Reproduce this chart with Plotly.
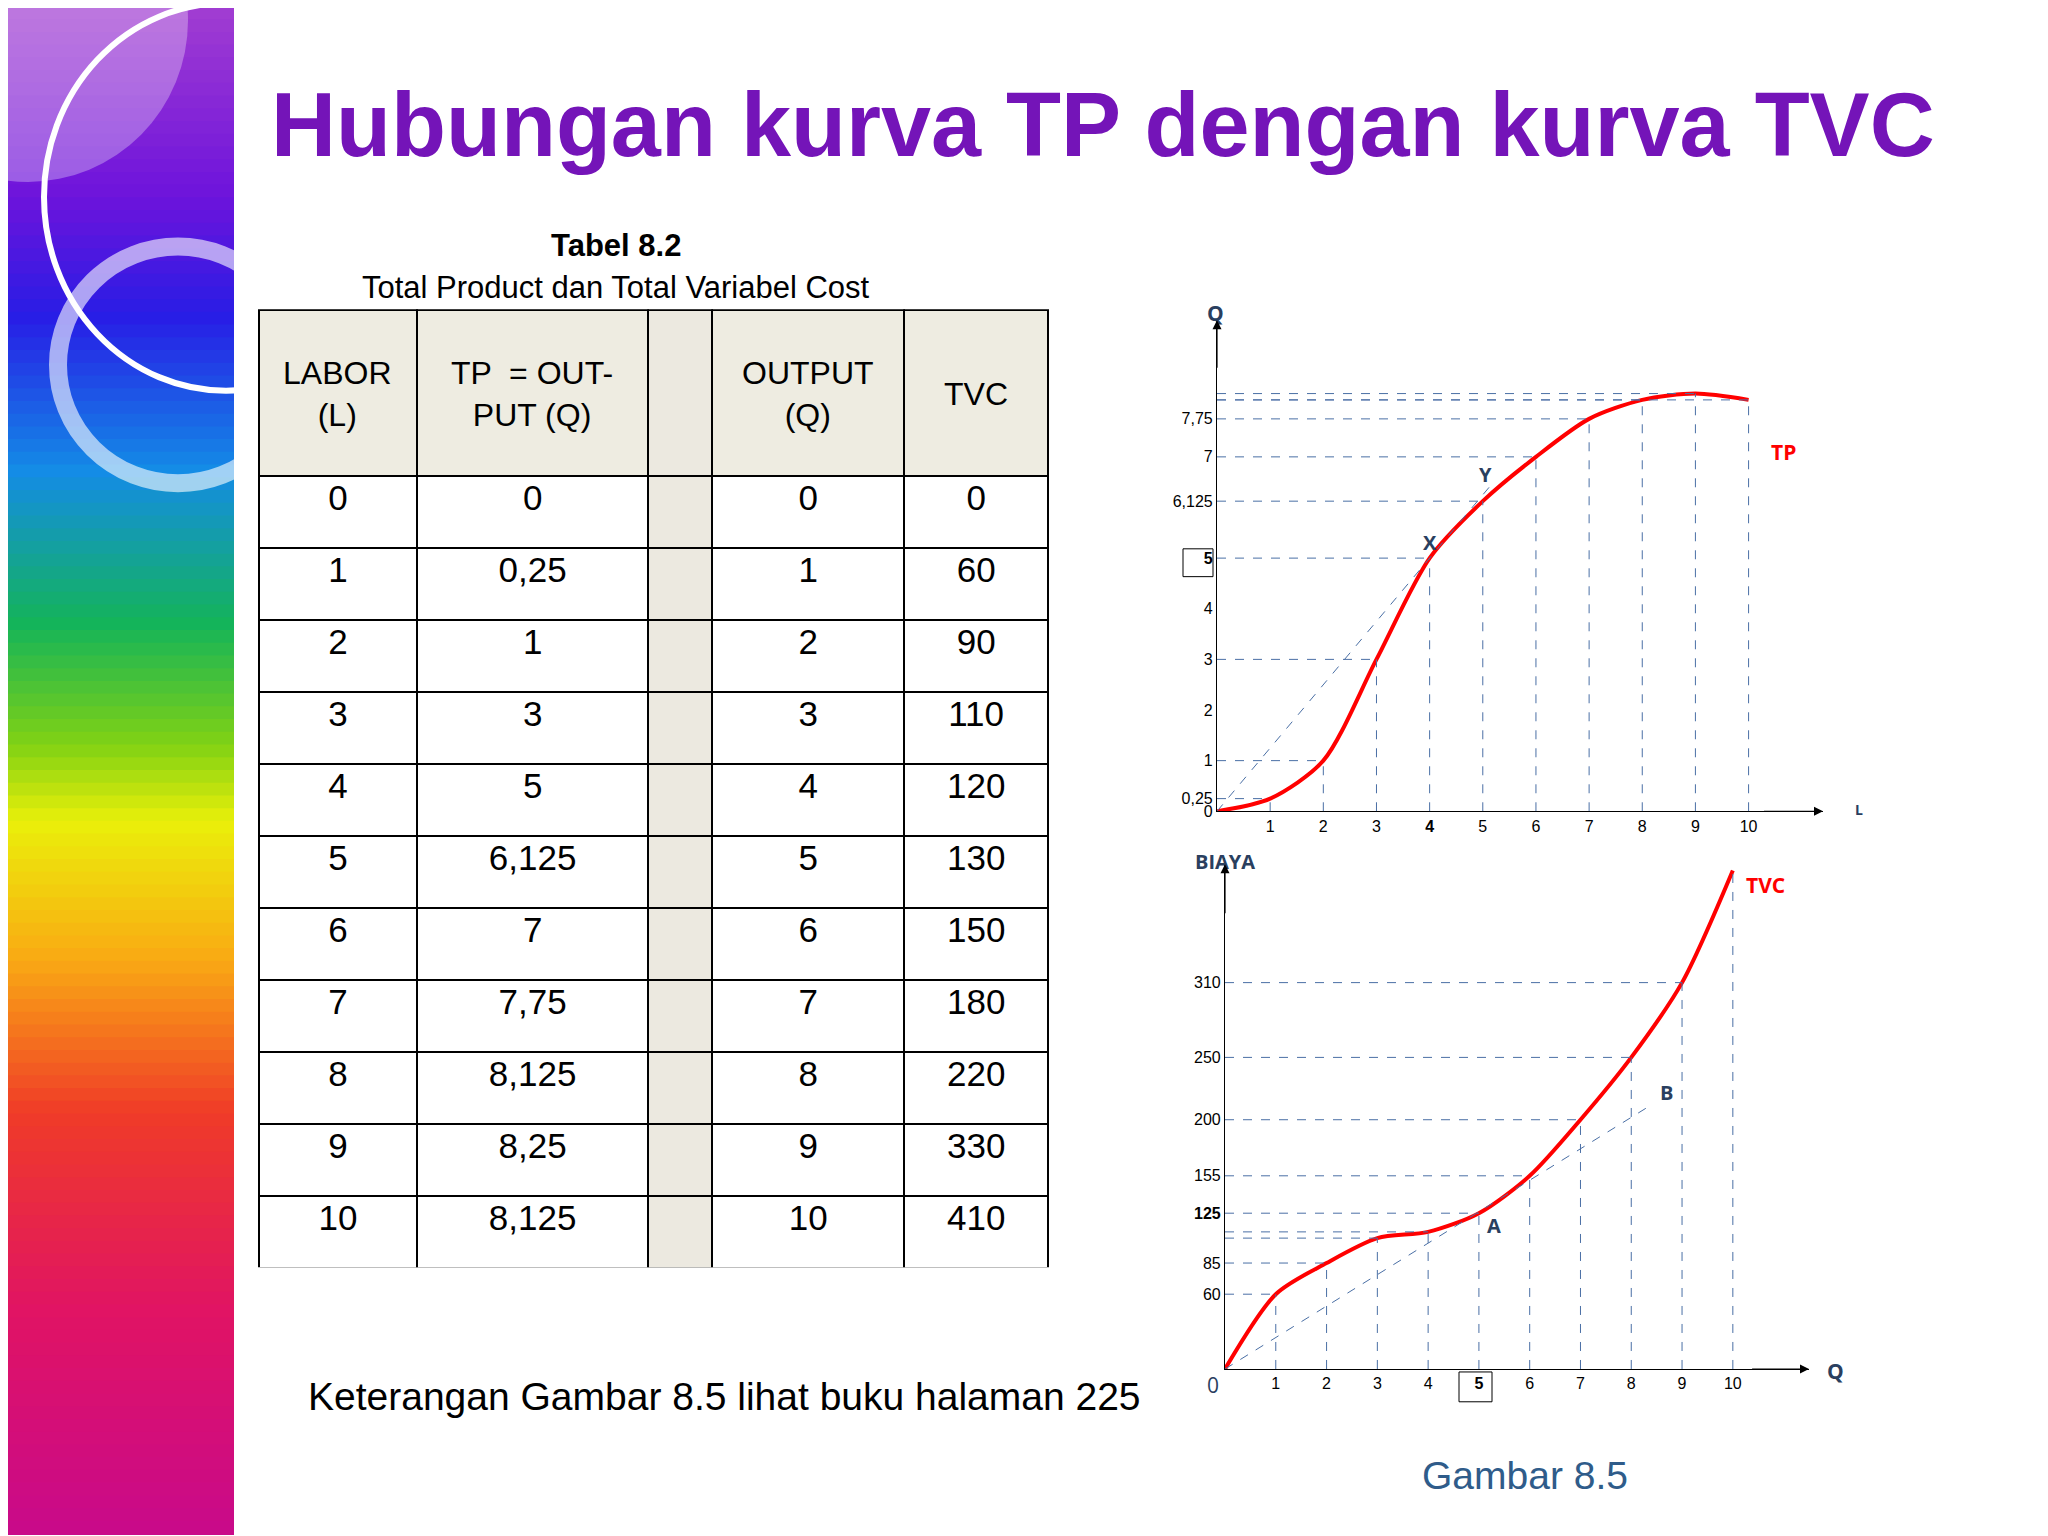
import plotly.graph_objects as go

labor = [0, 1, 2, 3, 4, 5, 6, 7, 8, 9, 10]
tp = [0, 0.25, 1, 3, 5, 6.125, 7, 7.75, 8.125, 8.25, 8.125]
tp_txt = ["0", "0,25", "1", "3", "5", "6,125", "7", "7,75", "8,125", "8,25", "8,125"]
output_q = [0, 1, 2, 3, 4, 5, 6, 7, 8, 9, 10]
tvc_table = [0, 60, 90, 110, 120, 130, 150, 180, 220, 330, 410]
# values
tvc_graph = [0, 60, 85, 105, 110, 125, 155, 200, 250, 310, 400]
tvc_ticks = [60, 85, 125, 155, 200, 250, 310]
header_txt = ["LABOR<br>(L)", "TP  = OUT-<br>PUT (Q)", "OUTPUT<br>(Q)", "TVC"]

W, H = 2048, 1536
fig = go.Figure()
shapes, ann = [], []

def P(x, y):
    return dict(x=x / W, y=1 - y / H, xref="paper", yref="paper", showarrow=False)

# decorative rings (below), then white cover right of bar, then bar
shapes.append(dict(type="circle", xref="paper", yref="paper", x0=-140 / W, x1=180 / W, y0=1 - 175 / H, y1=1 + 150 / H,
                   fillcolor="rgba(255,255,255,0.3)", line_width=0, layer="below"))
stops = [(0, (160, 60, 210)), (0.12, (110, 20, 220)), (0.2, (40, 30, 230)), (0.3, (20, 140, 230)),
         (0.4, (20, 180, 90)), (0.48, (130, 210, 20)), (0.53, (235, 240, 10)), (0.62, (250, 170, 20)),
         (0.72, (240, 60, 40)), (0.85, (225, 20, 100)), (1.0, (200, 10, 140))]
def col(t):
    for (a, ca), (b, cb) in zip(stops, stops[1:]):
        if a <= t <= b:
            f = (t - a) / (b - a)
            return "rgb(%d,%d,%d)" % tuple(int(ca[i] + (cb[i] - ca[i]) * f) for i in range(3))
    return "rgb(200,10,140)"
n = 120
bar = []
for i in range(n):
    bar.append(dict(type="rect", xref="paper", yref="paper", x0=0, x1=226 / W,
                    y0=1 - (i + 1) / n, y1=1 - i / n + 0.001, fillcolor=col(i / n), line_width=0, layer="below"))
shapes = bar + shapes
shapes.append(dict(type="circle", xref="paper", yref="paper", x0=36 / W, x1=400 / W, y0=1 - 385 / H, y1=1 + 5 / H,
                   line=dict(color="white", width=6), layer="below"))
shapes.append(dict(type="circle", xref="paper", yref="paper", x0=50 / W, x1=290 / W, y0=1 - 478 / H, y1=1 - 240 / H,
                   line=dict(color="rgba(255,255,255,0.6)", width=18), layer="below"))
shapes.append(dict(type="rect", xref="paper", yref="paper", x0=226 / W, x1=0.3, y0=0.6, y1=1.01,
                   fillcolor="white", line_width=0, layer="below"))

# table
fig.add_trace(go.Table(
    domain=dict(x=[251 / W, 1040 / W], y=[1 - 1267 / H, 1 - 304 / H]),
    columnwidth=[121, 177, 49, 147, 110],
    header=dict(values=["", "", "", "", ""],
                fill_color=["#EEECE1", "#EEECE1", "#ECE9E0", "#EEECE1", "#EEECE1"],
                line=dict(color="black", width=2), height=166),
    cells=dict(values=[[str(v) for v in labor], tp_txt, [""] * 11, [str(v) for v in output_q],
                       [str(v) for v in tvc_table]],
               fill_color=[["white"] * 11, ["white"] * 11, ["#ECE9E0"] * 11, ["white"] * 11, ["white"] * 11],
               line=dict(color="black", width=2), height=72,
               font=dict(family="Liberation Sans", size=35, color="black"), align="center")))
for t, cx in zip(header_txt, [329, 524, 800, 968]):
    ann.append(dict(**P(cx, 388), text=t, xanchor="center", yanchor="middle",
                    font=dict(family="Liberation Sans", size=32, color="black")))

red = "#FF0000"
grid = dict(color="#4a6fa5", width=1, dash="dash")

# TP chart
fig.add_trace(go.Scatter(x=labor, y=tp, mode="lines", line=dict(color=red, width=4, shape="spline", smoothing=0.8),
                         xaxis="x", yaxis="y", showlegend=False))
for L, q in zip(labor[1:], tp[1:]):
    shapes.append(dict(type="line", xref="x", yref="y", x0=L, x1=L, y0=0, y1=q, line=grid))
    shapes.append(dict(type="line", xref="x", yref="y", x0=0, x1=L, y0=q, y1=q, line=grid))
shapes.append(dict(type="line", xref="x", yref="y", x0=0, x1=5.2, y0=0, y1=6.5, line=grid))
ann += [dict(x=4, y=5.3, xref="x", yref="y", text="<b>X</b>", showarrow=False, font=dict(size=20)),
        dict(x=5.05, y=6.65, xref="x", yref="y", text="<b>Y</b>", showarrow=False, font=dict(size=20)),
        dict(x=10.65, y=7.1, xref="x", yref="y", text="<b>TP</b>", showarrow=False, font=dict(size=21, color=red)),
        dict(**P(1207, 307), text="<b>Q</b>", xanchor="center", yanchor="middle", font=dict(size=21)),
        dict(**P(1851, 806), text="<b>L</b>", xanchor="center", yanchor="middle", font=dict(size=14)),
        dict(x=-0.1, y=8.42, xref="x", yref="y", text="8,25", showarrow=False, xanchor="right",
             font=dict(family="Liberation Sans", size=16)),
        dict(x=-0.1, y=8.06, xref="x", yref="y", text="8,125", showarrow=False, xanchor="right",
             font=dict(family="Liberation Sans", size=16))]

# TVC chart
fig.add_trace(go.Scatter(x=output_q, y=tvc_graph, mode="lines",
                         line=dict(color=red, width=4, shape="spline", smoothing=0.8),
                         xaxis="x2", yaxis="y2", showlegend=False))
for q, c in zip(output_q[1:], tvc_graph[1:]):
    shapes.append(dict(type="line", xref="x2", yref="y2", x0=q, x1=q, y0=0, y1=c, line=grid))
    if c <= 310:
        shapes.append(dict(type="line", xref="x2", yref="y2", x0=0, x1=q, y0=c, y1=c, line=grid))
shapes.append(dict(type="line", xref="x2", yref="y2", x0=0, x1=8.4, y0=0, y1=212, line=grid))
ann += [dict(x=5.3, y=115, xref="x2", yref="y2", text="<b>A</b>", showarrow=False, font=dict(size=20)),
        dict(x=8.7, y=222, xref="x2", yref="y2", text="<b>B</b>", showarrow=False, font=dict(size=20)),
        dict(x=10.65, y=388, xref="x2", yref="y2", text="<b>TVC</b>", showarrow=False, font=dict(size=21, color=red)),
        dict(x=0, y=395, xref="x2", yref="y2", text="<b>BIAYA</b>", showarrow=False, yanchor="bottom", font=dict(size=20)),
        dict(**P(1827, 1371), text="<b>Q</b>", xanchor="center", yanchor="middle", font=dict(size=21)),
        dict(**P(1205, 1385), text="0", xanchor="center", yanchor="middle", font=dict(size=21)),
        dict(x=-0.1, y=115, xref="x2", yref="y2", text="110", showarrow=False, xanchor="right",
             font=dict(family="Liberation Sans", size=16)),
        dict(x=-0.1, y=101, xref="x2", yref="y2", text="105", showarrow=False, xanchor="right",
             font=dict(family="Liberation Sans", size=16))]
# axis arrows
for xr, yr, xe, ye in [("x", "y", 11.4, 0), ("x", "y", 0, 9.7), ("x2", "y2", 11.5, 0), ("x2", "y2", 0, 405)]:
    ann.append(dict(x=xe, y=ye, ax=(xe * 0.9 if xe else 0), ay=(ye * 0.9 if ye else 0), xref=xr, yref=yr,
                    axref=xr, ayref=yr, text="", showarrow=True, arrowhead=2, arrowsize=1.5,
                    arrowwidth=1.2, arrowcolor="black"))
# boxed ticks
shapes.append(dict(type="rect", xref="paper", yref="paper", x0=1175 / W, x1=1205 / W,
                   y0=1 - 572 / H, y1=1 - 544 / H, line=dict(color="black", width=1)))
shapes.append(dict(type="rect", xref="paper", yref="paper", x0=1451 / W, x1=1484 / W,
                   y0=1 - 1402 / H, y1=1 - 1372 / H, line=dict(color="black", width=1)))

# titles & texts
ann += [dict(**P(261, 118), xanchor="left", yanchor="middle", text="<b>Hubungan kurva TP dengan kurva TVC</b>",
             font=dict(family="Liberation Sans", size=90, color="#7414B8")),
        dict(**P(608, 239), xanchor="center", yanchor="middle", text="<b>Tabel 8.2</b>",
             font=dict(family="Liberation Sans", size=31, color="black")),
        dict(**P(608, 281), xanchor="center", yanchor="middle", text="Total Product dan Total Variabel Cost",
             font=dict(family="Liberation Sans", size=31, color="black")),
        dict(**P(716, 1397), xanchor="center", yanchor="middle", text="Keterangan Gambar 8.5 lihat buku halaman 225",
             font=dict(family="Liberation Sans", size=39, color="black")),
        dict(**P(1517, 1476), xanchor="center", yanchor="middle", text="Gambar 8.5",
             font=dict(family="Liberation Sans", size=39, color="#2F5C8A"))]

ax_common = dict(showgrid=False, zeroline=False, showline=True, linecolor="black", linewidth=1.2,
                 ticks="", tickfont=dict(family="Liberation Sans", size=16, color="black"))
fig.update_layout(
    width=W, height=H, margin=dict(l=0, r=0, t=0, b=0), plot_bgcolor="white", paper_bgcolor="white",
    shapes=shapes, annotations=ann,
    xaxis=dict(domain=[1209 / W, 1815 / W], range=[0, 11.4], anchor="y", tickvals=list(range(1, 11)),
               ticktext=[str(i) if i != 4 else "<b>4</b>" for i in range(1, 11)], **ax_common),
    yaxis=dict(domain=[1 - 808 / H, 1 - 314 / H], range=[0, 9.7], anchor="x",
               tickvals=[0, 0.25, 1, 2, 3, 4, 5, 6.125, 7, 7.75],
               ticktext=["0", "0,25", "1", "2", "3", "4", "<b>5</b>", "6,125", "7", "7,75"],
               **ax_common),
    xaxis2=dict(domain=[1217 / W, 1801 / W], range=[0, 11.5], anchor="y2", tickvals=list(range(1, 11)),
                ticktext=[str(i) if i != 5 else "<b>5</b>" for i in range(1, 11)], **ax_common),
    yaxis2=dict(domain=[1 - 1369 / H, 1 - 855 / H], range=[0, 410], anchor="x2", tickvals=tvc_ticks,
                ticktext=[("<b>%d</b>" % v if v == 125 else str(v)) for v in tvc_ticks], **ax_common),
)
fig.write_html("out.html")
